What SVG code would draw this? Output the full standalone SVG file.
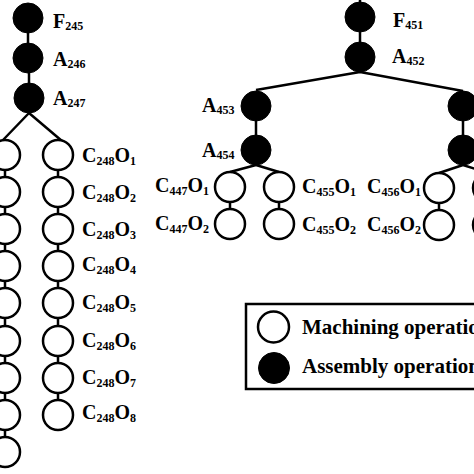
<svg xmlns="http://www.w3.org/2000/svg" width="474" height="474" viewBox="0 0 474 474">
<style>
.e{stroke:#000;stroke-width:2.5;fill:none}
.m{fill:#fff;stroke:#000;stroke-width:2.5}
.a{fill:#000;stroke:#000;stroke-width:1}
text{font-family:"Liberation Serif","Times New Roman",serif;font-weight:bold;font-size:20px;fill:#000}
.s{font-size:12px}
.g{font-size:21px}
</style>
<rect width="474" height="474" fill="#fff"/>
<g id="connectors">
<path class="e" d="M28 18V58M29 58V98M29 113L3 140M29 113L62 141"/>
<path class="e" d="M5 155V452M58 155V416"/>
<path class="e" d="M360 0V57M360 72L256 90M360 72L463 91M256 106V150M463 106V150"/>
<path class="e" d="M256 165L230 172M256 165L279 172M230 187V224M279 187V224"/>
<path class="e" d="M463 165L439 173M463 165L488 173M439 188V225M488 188V225"/>
</g>
<g id="F245"><circle class="a" cx="28" cy="18" r="15"/><text x="53" y="28">F<tspan class="s" dy="2">245</tspan></text></g>
<g id="A246"><circle class="a" cx="28" cy="58" r="15"/><text x="53" y="66">A<tspan class="s" dy="2">246</tspan></text></g>
<g id="A247"><circle class="a" cx="29" cy="98" r="15"/><text x="53" y="105">A<tspan class="s" dy="2">247</tspan></text></g>
<g id="L1"><circle class="m" cx="5" cy="155" r="15"/></g>
<g id="L2"><circle class="m" cx="5" cy="192" r="15"/></g>
<g id="L3"><circle class="m" cx="5" cy="229" r="15"/></g>
<g id="L4"><circle class="m" cx="5" cy="266" r="15"/></g>
<g id="L5"><circle class="m" cx="5" cy="303" r="15"/></g>
<g id="L6"><circle class="m" cx="5" cy="341" r="15"/></g>
<g id="L7"><circle class="m" cx="5" cy="378" r="15"/></g>
<g id="L8"><circle class="m" cx="5" cy="415" r="15"/></g>
<g id="L9"><circle class="m" cx="5" cy="452" r="15"/></g>
<g id="C248O1"><circle class="m" cx="58" cy="155" r="15"/><text x="82" y="162">C<tspan class="s" dy="3">248</tspan><tspan dy="-3">O</tspan><tspan class="s" dy="3">1</tspan></text></g>
<g id="C248O2"><circle class="m" cx="58" cy="192" r="15"/><text x="82" y="199">C<tspan class="s" dy="3">248</tspan><tspan dy="-3">O</tspan><tspan class="s" dy="3">2</tspan></text></g>
<g id="C248O3"><circle class="m" cx="58" cy="229" r="15"/><text x="82" y="236">C<tspan class="s" dy="3">248</tspan><tspan dy="-3">O</tspan><tspan class="s" dy="3">3</tspan></text></g>
<g id="C248O4"><circle class="m" cx="58" cy="266" r="15"/><text x="82" y="271">C<tspan class="s" dy="3">248</tspan><tspan dy="-3">O</tspan><tspan class="s" dy="3">4</tspan></text></g>
<g id="C248O5"><circle class="m" cx="58" cy="303" r="15"/><text x="82" y="309">C<tspan class="s" dy="3">248</tspan><tspan dy="-3">O</tspan><tspan class="s" dy="3">5</tspan></text></g>
<g id="C248O6"><circle class="m" cx="58" cy="341" r="15"/><text x="82" y="347">C<tspan class="s" dy="3">248</tspan><tspan dy="-3">O</tspan><tspan class="s" dy="3">6</tspan></text></g>
<g id="C248O7"><circle class="m" cx="58" cy="378" r="15"/><text x="82" y="384">C<tspan class="s" dy="3">248</tspan><tspan dy="-3">O</tspan><tspan class="s" dy="3">7</tspan></text></g>
<g id="C248O8"><circle class="m" cx="58" cy="415" r="15"/><text x="82" y="419">C<tspan class="s" dy="3">248</tspan><tspan dy="-3">O</tspan><tspan class="s" dy="3">8</tspan></text></g>
<g id="F451"><circle class="a" cx="360" cy="17" r="15"/><text x="393" y="27">F<tspan class="s" dy="2">451</tspan></text></g>
<g id="A452"><circle class="a" cx="360" cy="57" r="15"/><text x="392" y="63">A<tspan class="s" dy="2">452</tspan></text></g>
<g id="A453"><circle class="a" cx="256" cy="106" r="15"/><text x="202" y="112">A<tspan class="s" dy="2">453</tspan></text></g>
<g id="A454"><circle class="a" cx="256" cy="150" r="15"/><text x="202" y="157">A<tspan class="s" dy="2">454</tspan></text></g>
<g id="AR1"><circle class="a" cx="463" cy="106" r="15"/></g>
<g id="AR2"><circle class="a" cx="463" cy="150" r="15"/></g>
<g id="C447O1"><circle class="m" cx="230" cy="187" r="15"/><text x="209" y="192" text-anchor="end">C<tspan class="s" dy="3">447</tspan><tspan dy="-3">O</tspan><tspan class="s" dy="3">1</tspan></text></g>
<g id="C447O2"><circle class="m" cx="230" cy="224" r="15"/><text x="209" y="230" text-anchor="end">C<tspan class="s" dy="3">447</tspan><tspan dy="-3">O</tspan><tspan class="s" dy="3">2</tspan></text></g>
<g id="C455O1"><circle class="m" cx="279" cy="187" r="15"/><text x="302" y="193">C<tspan class="s" dy="3">455</tspan><tspan dy="-3">O</tspan><tspan class="s" dy="3">1</tspan></text></g>
<g id="C455O2"><circle class="m" cx="279" cy="224" r="15"/><text x="302" y="231">C<tspan class="s" dy="3">455</tspan><tspan dy="-3">O</tspan><tspan class="s" dy="3">2</tspan></text></g>
<g id="C456O1"><circle class="m" cx="439" cy="188" r="15"/><text x="421" y="193" text-anchor="end">C<tspan class="s" dy="3">456</tspan><tspan dy="-3">O</tspan><tspan class="s" dy="3">1</tspan></text></g>
<g id="C456O2"><circle class="m" cx="439" cy="225" r="15"/><text x="421" y="231" text-anchor="end">C<tspan class="s" dy="3">456</tspan><tspan dy="-3">O</tspan><tspan class="s" dy="3">2</tspan></text></g>
<g id="R1"><circle class="m" cx="488" cy="188" r="15"/></g>
<g id="R2"><circle class="m" cx="488" cy="225" r="15"/></g>
<g id="legend">
<rect x="246" y="304" width="240" height="85" fill="#fff" stroke="#000" stroke-width="2.5"/>
<circle class="m" cx="273.5" cy="327" r="15.5"/>
<circle class="a" cx="274" cy="368" r="15.5"/>
<text class="g" x="302" y="334">Machining operations</text>
<text class="g" x="302" y="373">Assembly operations</text>
</g>
</svg>
